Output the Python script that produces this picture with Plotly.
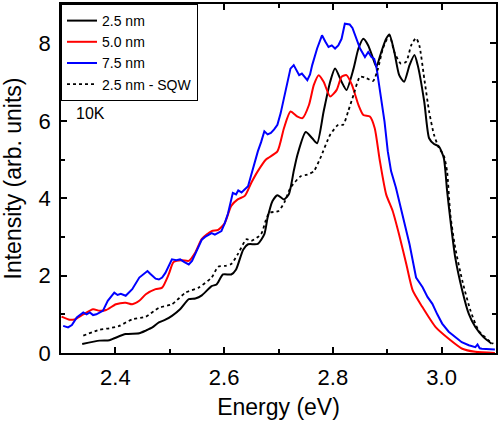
import plotly.graph_objects as go

# photoluminescence spectra at 10K
e_25 = [2.339, 2.371, 2.389, 2.398, 2.419, 2.444, 2.456, 2.468, 2.48, 2.492, 2.504, 2.519, 2.535, 2.547,
        2.559, 2.577, 2.586, 2.598, 2.613, 2.622, 2.635, 2.644, 2.662, 2.674, 2.680, 2.689, 2.698, 2.710,
        2.719, 2.728, 2.735, 2.750, 2.762, 2.771, 2.783, 2.795, 2.804, 2.816, 2.825, 2.838, 2.847, 2.856,
        2.865, 2.874, 2.880, 2.889, 2.898, 2.904, 2.913, 2.922, 2.931, 2.941, 2.950, 2.956, 2.968, 2.977,
        2.986, 2.995, 3.004, 3.010, 3.016, 3.025, 3.038, 3.050, 3.062, 3.077, 3.092]
i_25 = [0.23, 0.32, 0.33, 0.38, 0.49, 0.51, 0.58, 0.66, 0.79, 0.86, 0.96, 1.13, 1.39, 1.41,
        1.49, 1.73, 1.77, 2.03, 2.03, 2.16, 2.67, 2.81, 2.82, 3.07, 3.5, 3.93, 4.08, 3.97,
        4.10, 4.7, 5.13, 5.71, 5.55, 5.42, 6.24, 7.01, 7.35, 7.01, 6.80, 7.35, 7.87, 8.12,
        7.95, 7.61, 7.40, 7.78, 8.12, 8.23, 7.78, 7.18, 7.01, 7.44, 7.70, 7.44, 6.50, 5.55,
        5.40, 5.34, 5.04, 4.2, 3.45, 2.47, 1.61, 1.01, 0.67, 0.41, 0.24]

e_50 = [2.301, 2.316, 2.325, 2.341, 2.359, 2.371, 2.383, 2.401, 2.419, 2.431, 2.444, 2.456, 2.474, 2.486,
        2.498, 2.507, 2.522, 2.535, 2.547, 2.559, 2.577, 2.589, 2.601, 2.613, 2.625, 2.638, 2.650, 2.662,
        2.677, 2.698, 2.710, 2.722, 2.735, 2.744, 2.756, 2.765, 2.774, 2.783, 2.795, 2.807, 2.816, 2.825,
        2.835, 2.847, 2.856, 2.868, 2.877, 2.886, 2.898, 2.910, 2.922, 2.935, 2.947, 2.965, 2.989, 3.013,
        3.038, 3.062, 3.098]
i_50 = [0.94, 0.86, 0.87, 1.0, 1.13, 1.09, 1.11, 1.26, 1.30, 1.26, 1.35, 1.52, 1.65, 1.69,
        2.03, 2.35, 2.40, 2.38, 2.60, 2.95, 3.15, 3.18, 3.35, 3.8, 3.97, 4.06, 4.40, 4.70,
        5.0, 5.21, 5.81, 6.24, 6.11, 6.07, 6.41, 6.93, 7.18, 7.01, 6.63, 6.80, 7.14, 7.18,
        6.93, 6.41, 6.15, 6.11, 5.81, 5.0, 4.10, 3.67, 3.05, 2.30, 1.61, 1.18, 0.67, 0.37,
        0.11, 0.03, 0.0]

e_75 = [2.304, 2.313, 2.320, 2.329, 2.341, 2.347, 2.353, 2.359, 2.365, 2.377, 2.386, 2.392, 2.398, 2.404,
        2.410, 2.419, 2.431, 2.444, 2.452, 2.459, 2.464, 2.468, 2.474, 2.48, 2.486, 2.492, 2.504, 2.512,
        2.519, 2.527, 2.535, 2.541, 2.547, 2.553, 2.559, 2.565, 2.577, 2.583, 2.589, 2.595, 2.601, 2.607,
        2.616, 2.622, 2.626, 2.632, 2.644, 2.650, 2.656, 2.662, 2.668, 2.674, 2.680, 2.686, 2.692, 2.698,
        2.704, 2.710, 2.716, 2.722, 2.728, 2.733, 2.738, 2.743, 2.747, 2.753, 2.758, 2.762, 2.771, 2.776,
        2.780, 2.786, 2.792, 2.798, 2.804, 2.810, 2.816, 2.822, 2.831, 2.836, 2.841, 2.850, 2.859, 2.865,
        2.871, 2.876, 2.880, 2.886, 2.895, 2.901, 2.907, 2.916, 2.928, 2.941, 2.953, 2.965, 2.974, 2.983,
        2.992, 3.001, 3.013, 3.025, 3.037, 3.050, 3.056, 3.062, 3.066, 3.070, 3.074, 3.086, 3.098]
i_75 = [0.70, 0.66, 0.72, 0.92, 1.05, 1.0, 1.05, 0.98, 1.0, 1.09, 1.35, 1.45, 1.56, 1.50,
        1.53, 1.48, 1.65, 1.95, 2.05, 2.12, 2.05, 1.99, 1.92, 1.90, 1.95, 2.07, 2.42, 2.40,
        2.42, 2.35, 2.29, 2.38, 2.55, 2.75, 2.93, 3.0, 3.10, 3.06, 3.10, 3.15, 3.35, 3.6,
        4.14, 4.10, 4.20, 4.15, 4.31, 4.6, 4.95, 5.21, 5.45, 5.73, 5.65, 5.69, 5.78, 5.90,
        6.2, 6.58, 7.0, 7.35, 7.44, 7.30, 7.18, 7.22, 7.14, 7.05, 7.20, 7.44, 7.87, 8.05,
        8.21, 8.05, 7.91, 7.95, 7.87, 7.95, 8.12, 8.51, 8.49, 8.40, 8.21, 7.87, 7.65, 7.78,
        7.65, 7.60, 7.40, 6.84, 5.98, 5.21, 4.70, 4.27, 3.58, 2.81, 1.95, 1.70, 1.45, 1.27,
        1.0, 0.76, 0.55, 0.41, 0.28, 0.20, 0.17, 0.15, 0.22, 0.12, 0.11, 0.10, 0.09]

e_sqw = [2.341, 2.371, 2.389, 2.407, 2.431, 2.456, 2.48, 2.504, 2.529, 2.553, 2.577, 2.589, 2.601, 2.613,
         2.625, 2.641, 2.650, 2.668, 2.676, 2.683, 2.700, 2.711, 2.722, 2.741, 2.753, 2.765, 2.777, 2.795,
         2.810, 2.819, 2.828, 2.838, 2.850, 2.862, 2.874, 2.883, 2.892, 2.904, 2.913, 2.925, 2.935, 2.944,
         2.953, 2.959, 2.968, 2.977, 2.986, 2.995, 3.004, 3.010, 3.016, 3.025, 3.038, 3.053, 3.068, 3.086,
         3.095]
i_sqw = [0.45, 0.60, 0.64, 0.70, 0.87, 0.94, 1.17, 1.26, 1.56, 1.69, 1.95, 2.23, 2.25, 2.3,
         2.55, 2.94, 2.90, 3.07, 3.4, 3.62, 3.67, 3.9, 4.27, 4.57, 4.61, 4.70, 5.04, 5.64,
         5.90, 5.90, 6.24, 6.67, 7.14, 7.10, 7.03, 7.35, 7.87, 8.21, 7.78, 7.48, 7.53, 7.95,
         8.14, 7.95, 7.10, 6.24, 5.64, 5.30, 5.10, 4.70, 3.58, 2.72, 1.87, 1.10, 0.58, 0.33,
         0.24]

fnt = "Arial, Liberation Sans, Helvetica, sans-serif"

fig = go.Figure()
fig.add_trace(go.Scatter(x=e_25, y=i_25, mode="lines", name="2.5 nm",
                         line=dict(color="black", width=2, shape="spline", smoothing=0.6)))
fig.add_trace(go.Scatter(x=e_50, y=i_50, mode="lines", name="5.0 nm",
                         line=dict(color="#ff0000", width=2, shape="spline", smoothing=0.6)))
fig.add_trace(go.Scatter(x=e_75, y=i_75, mode="lines", name="7.5 nm",
                         line=dict(color="#0000ff", width=2)))
fig.add_trace(go.Scatter(x=e_sqw, y=i_sqw, mode="lines", name="2.5 nm - SQW",
                         line=dict(color="black", width=1.8, dash="dot", shape="spline", smoothing=0.6)))

fig.add_annotation(text="10K", xref="paper", yref="paper", x=0.03, y=0.686,
                   xanchor="left", yanchor="middle", showarrow=False,
                   font=dict(size=16, color="black", family=fnt))

axis_style = dict(showline=True, linecolor="black", linewidth=1.5, mirror="ticks",
                  ticks="inside", ticklen=6, tickwidth=1.5, tickcolor="black",
                  showgrid=False, zeroline=False, ticklabelstandoff=4,
                  tickfont=dict(size=22, color="black", family=fnt))

fig.update_xaxes(range=[2.3, 3.1], dtick=0.2, tick0=0, tickformat=".1f",
                 minor=dict(ticks="inside", dtick=0.1, ticklen=4, tickcolor="black"),
                 title=dict(text="Energy (eV)", font=dict(size=23, color="black", family=fnt), standoff=10),
                 **axis_style)
fig.update_yaxes(range=[0, 9.02], dtick=2, tick0=0,
                 minor=dict(ticks="inside", dtick=1, ticklen=4, tickcolor="black"),
                 title=dict(text="Intensity (arb. units)", font=dict(size=23, color="black", family=fnt), standoff=14),
                 **axis_style)

fig.update_layout(width=500, height=424, margin=dict(l=61, r=2, t=2, b=71),
                  plot_bgcolor="white", paper_bgcolor="white",
                  legend=dict(x=0, y=1, xanchor="left", yanchor="top", bgcolor="white",
                              bordercolor="black", borderwidth=1, tracegroupgap=0,
                              font=dict(size=14, color="black", family=fnt)))

# page body has a default 8px margin; drop it so the figure fills the window
fig.write_html("out.html", config={"displayModeBar": False},
               post_script="document.body.style.margin='0';")
